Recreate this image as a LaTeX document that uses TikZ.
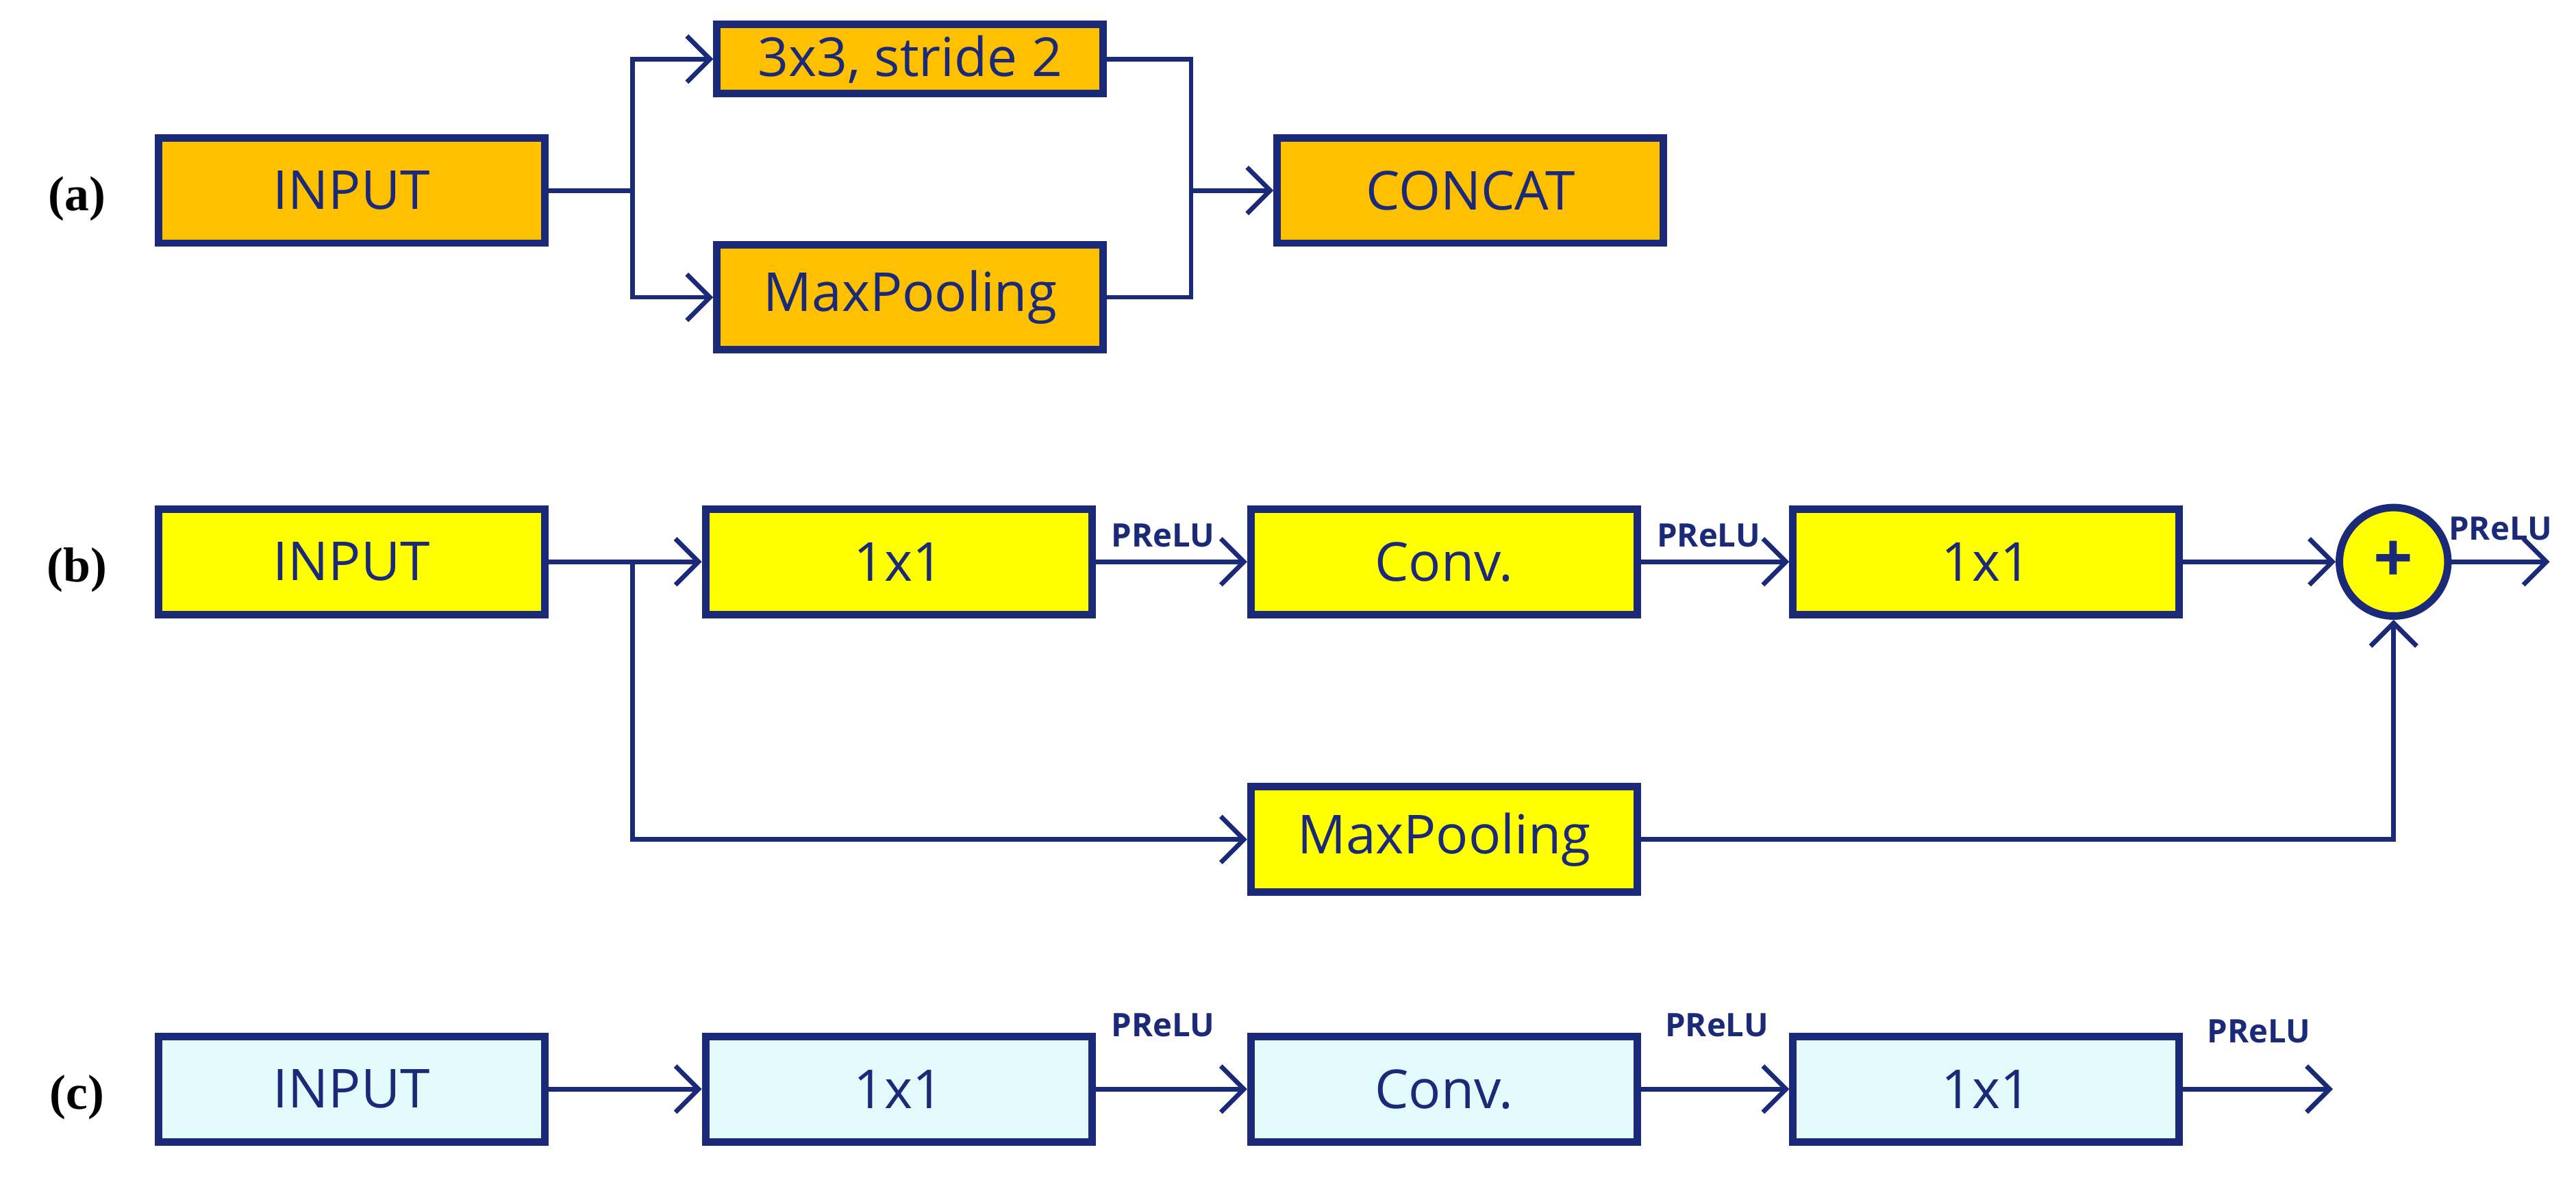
\documentclass[tikz,border=0pt]{standalone}
\usepackage{fontspec}
\setmainfont{Open Sans}
\newfontfamily\lblfont{Liberation Serif}
\usetikzlibrary{positioning, arrows.meta}
\definecolor{navy}{HTML}{1B2A78}
\definecolor{orangeA}{HTML}{FFC000}
\definecolor{yellowB}{HTML}{FFFF00}
\definecolor{cyanC}{HTML}{E3FAFD}
\tikzset{
  blk/.style={draw=navy, line width=1.3pt, minimum width=2.35cm, minimum height=0.64cm, inner sep=0pt, font=\fontsize{9.3}{11}\selectfont, text=navy},
  con/.style={draw=navy, line width=0.8pt},
  arr/.style={con, -{Straight Barb[length=4pt, width=8pt]}},
  act/.style={font=\bfseries\fontsize{5.6}{6}\selectfont, text=navy, inner sep=0pt},
  tag/.style={font=\lblfont\bfseries\fontsize{8.5}{10}\selectfont}
}
\begin{document}
\begin{tikzpicture}[x=0.01cm, y=-0.01cm]
        \useasboundingbox (0,0) rectangle (1568,725);

        % (a)
        \node[tag] (ta) at (47,121) {(a)};
        \node[blk, fill=orangeA] (ainput) at (214,116) {INPUT};
        \node[blk, fill=orangeA, minimum height=0.42cm] (aconv) at (554,36) {3x3, stride 2};
        \node[blk, fill=orangeA] (apool) at (554,181) {MaxPooling};
        \node[blk, fill=orangeA] (aconcat) at (895,116) {CONCAT};
        \coordinate (asplit) at (385,116);
        \coordinate (ajoin) at (725,116);
        \draw[con] (ainput) -- (asplit);
        \draw[arr] (asplit) |- (aconv);
        \draw[arr] (asplit) |- (apool);
        \draw[con] (aconv) -| (ajoin);
        \draw[con] (apool) -| (ajoin);
        \draw[arr] (ajoin) -- (aconcat);

        % (b)
        \node[tag] (tb) at (47,347) {(b)};
        \node[blk, fill=yellowB] (binput) at (214,342) {INPUT};
        \node[blk, fill=yellowB] (bone) at (547,342) {1x1};
        \node[blk, fill=yellowB] (bconv) at (879,342) {Conv.};
        \node[blk, fill=yellowB] (btwo) at (1209,342) {1x1};
        \node[blk, fill=yellowB] (bpool) at (879,511) {MaxPooling};
        \node[draw=navy, line width=1.3pt, fill=yellowB, circle, minimum size=0.66cm, inner sep=0pt, font=\bfseries\large, text=navy] (bsum) at (1457,342) {+};
        \coordinate (bsplit) at (385,342);
        \coordinate (bout) at (1552,342);
        \draw[con] (binput) -- (bsplit);
        \draw[arr] (bsplit) -- (bone);
        \draw[arr] (bsplit) |- (bpool);
        \draw[arr] (bone) -- (bconv);
        \draw[arr] (bconv) -- (btwo);
        \draw[arr] (btwo) -- (bsum);
        \draw[arr] (bpool) -| (bsum);
        \draw[arr] (bsum) -- (bout);
        \node[act] (bp1) at (708,326) {PReLU};
        \node[act] (bp2) at (1040,326) {PReLU};
        \node[act] (bp3) at (1522,322) {PReLU};

        % (c)
        \node[tag] (tc) at (47,668) {(c)};
        \node[blk, fill=cyanC] (cinput) at (214,663) {INPUT};
        \node[blk, fill=cyanC] (cone) at (547,663) {1x1};
        \node[blk, fill=cyanC] (cconv) at (879,663) {Conv.};
        \node[blk, fill=cyanC] (ctwo) at (1209,663) {1x1};
        \coordinate (cout) at (1420,663);
        \draw[arr] (cinput) -- (cone);
        \draw[arr] (cone) -- (cconv);
        \draw[arr] (cconv) -- (ctwo);
        \draw[arr] (ctwo) -- (cout);
        \node[act] (cp1) at (708,624) {PReLU};
        \node[act] (cp2) at (1045,624) {PReLU};
        \node[act] (cp3) at (1375,628) {PReLU};
\end{tikzpicture}
\end{document}
